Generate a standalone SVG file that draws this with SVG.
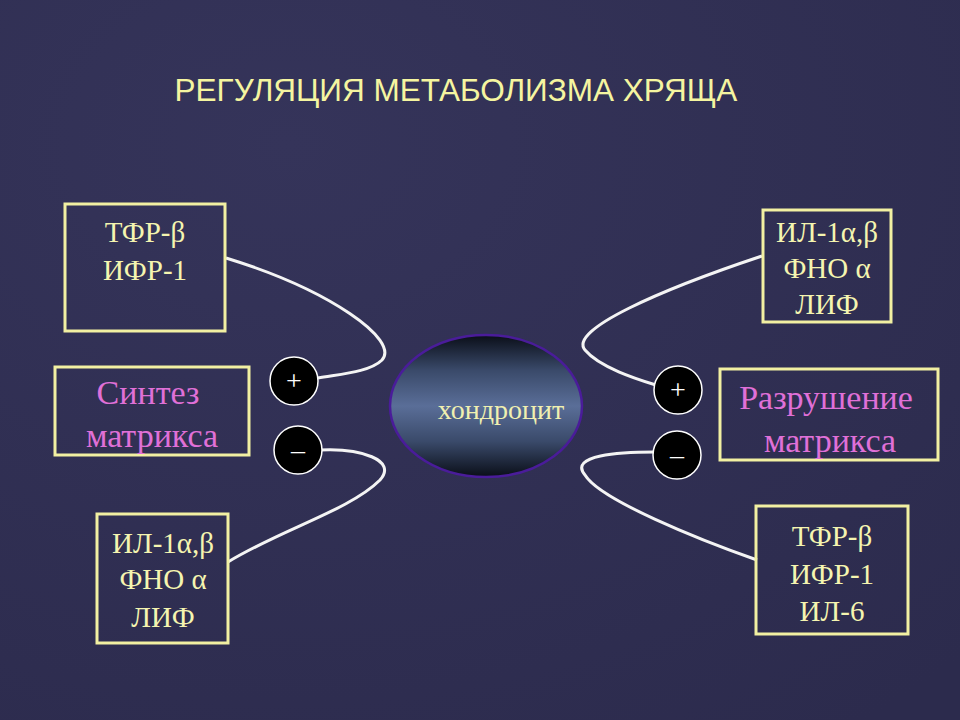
<svg xmlns="http://www.w3.org/2000/svg" width="960" height="720" viewBox="0 0 960 720">
<defs>
<radialGradient id="bg" cx="0.3" cy="0.2" r="1"><stop offset="0" stop-color="#35345a"/><stop offset="1" stop-color="#2c2b4d"/></radialGradient>
<linearGradient id="cell" x1="0" y1="0" x2="0" y2="1"><stop offset="0" stop-color="#0a0e18"/><stop offset="0.25" stop-color="#3a4a6a"/><stop offset="0.5" stop-color="#5a6e98"/><stop offset="0.75" stop-color="#3a4a6a"/><stop offset="1" stop-color="#0a0e18"/></linearGradient>
<style>
.box{fill:none;stroke:#f2f0a2;stroke-width:3}
.t{font-family:"Liberation Serif",serif;font-size:29px;fill:#f5f5b0;text-anchor:middle}
.p{font-family:"Liberation Serif",serif;font-size:34px;fill:#e070d8;text-anchor:middle}
.c{fill:none;stroke:#f4f4f4;stroke-width:3}
.sig{fill:#000;stroke:#fff;stroke-width:1.5}
.s{font-family:"Liberation Serif",serif;font-size:28px;fill:#fff;text-anchor:middle}
</style>
</defs>
<rect width="960" height="720" fill="url(#bg)"/>
<text x="456" y="101" font-family="Liberation Sans,sans-serif" font-size="31.5" fill="#f5f5a0" text-anchor="middle">РЕГУЛЯЦИЯ МЕТАБОЛИЗМА ХРЯЩА</text>
<g id="connectors">
<path class="c" d="M226,258 C330,290 400,340 382,360 C370,372 340,374 318,378"/>
<path class="c" d="M320,450 C360,448 398,460 380,480 C350,510 280,530 228,562"/>
<path class="c" d="M762,256 C660,290 568,330 585,350 C600,368 640,380 656,385"/>
<path class="c" d="M655,452 C620,452 568,455 585,475 C600,500 700,540 757,560"/>
</g>
<g id="n1"><rect class="box" x="65" y="204" width="160" height="127"/><text class="t" x="145" y="242">ТФР-β</text><text class="t" x="145" y="280">ИФР-1</text></g>
<g id="n2"><rect class="box" x="55" y="367" width="194" height="88"/><text class="p" x="148" y="404">Синтез</text><text class="p" x="152" y="447">матрикса</text></g>
<g id="n3"><rect class="box" x="97" y="514" width="131" height="129"/><text class="t" x="163" y="553">ИЛ-1α,β</text><text class="t" x="163" y="589">ФНО α</text><text class="t" x="163" y="627">ЛИФ</text></g>
<g id="n4"><rect class="box" x="763" y="210" width="128" height="112"/><text class="t" x="827" y="242">ИЛ-1α,β</text><text class="t" x="827" y="278">ФНО α</text><text class="t" x="827" y="314">ЛИФ</text></g>
<g id="n5"><rect class="box" x="720" y="369" width="218" height="91"/><text class="p" x="826" y="409">Разрушение</text><text class="p" x="830" y="452">матрикса</text></g>
<g id="n6"><rect class="box" x="756" y="506" width="152" height="128"/><text class="t" x="832" y="546">ТФР-β</text><text class="t" x="832" y="584">ИФР-1</text><text class="t" x="832" y="621">ИЛ-6</text></g>
<g id="cell"><ellipse cx="486" cy="406" rx="96" ry="71" fill="url(#cell)" stroke="#4a1c9a" stroke-width="2.5"/><text x="501" y="419" font-family="Liberation Serif,serif" font-size="28" fill="#f0f0b0" text-anchor="middle">хондроцит</text></g>
<g id="plusL"><circle class="sig" cx="294" cy="381" r="24"/><text class="s" x="294" y="390">+</text></g>
<g id="minusL"><circle class="sig" cx="298" cy="450" r="24"/><text class="s" x="298" y="459">–</text></g>
<g id="plusR"><circle class="sig" cx="678" cy="390" r="24"/><text class="s" x="678" y="399">+</text></g>
<g id="minusR"><circle class="sig" cx="677" cy="455" r="24"/><text class="s" x="677" y="464">–</text></g>
</svg>
